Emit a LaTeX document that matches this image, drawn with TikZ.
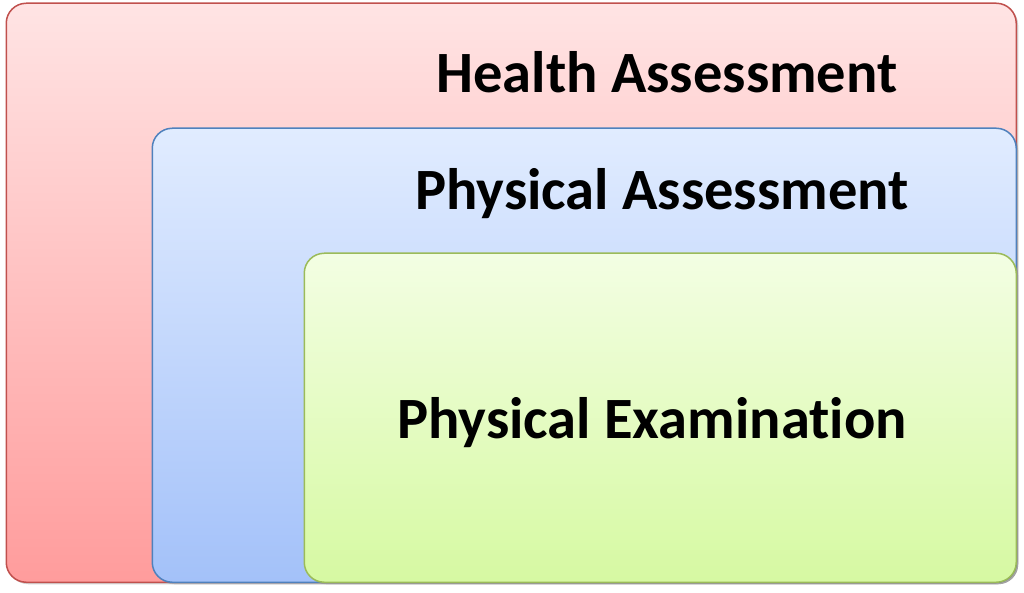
\documentclass[tikz,border=0pt]{standalone}
\usepackage{fontspec}
\setmainfont[Ligatures=NoCommon]{Carlito}
\usetikzlibrary{shadows}
\definecolor{healthline}{HTML}{C0504D}
\definecolor{healthtop}{HTML}{FFE4E4}
\definecolor{healthbot}{HTML}{FF9C9C}
\definecolor{physline}{HTML}{4F81BD}
\definecolor{phystop}{HTML}{E1ECFF}
\definecolor{physbot}{HTML}{A3C1F9}
\definecolor{examline}{HTML}{9BBB59}
\definecolor{examtop}{HTML}{F3FEE3}
\definecolor{exambot}{HTML}{D6F9A2}
\tikzstyle{layer} = [rectangle, rounded corners=20pt, line width=1.5pt, anchor=south east, drop shadow={opacity=0.35, shadow xshift=2pt, shadow yshift=-2pt}]
\tikzstyle{title} = [anchor=base, inner sep=0pt, font=\bfseries\fontsize{58.5}{68}\selectfont]

\begin{document}
\begin{tikzpicture}[x=1pt, y=-1pt]
\useasboundingbox (0,0) rectangle (1024,593);

 \node (health) [layer, draw=healthline, top color=healthtop, bottom color=healthbot, minimum width=1010pt, minimum height=579pt] at (1017,583) {};
 \node (phys) [layer, draw=physline, top color=phystop, bottom color=physbot, minimum width=864pt, minimum height=454pt] at (1017,583) {};
 \node (exam) [layer, draw=examline, top color=examtop, bottom color=exambot, minimum width=712pt, minimum height=329pt] at (1017,583) {};

 \node (healthtext) [title] at (667,93) {Health Assessment};
 \node (phystext) [title] at (662,210) {Physical Assessment};
 \node (examtext) [title] at (652,438) {Physical Examination};
\end{tikzpicture}
\end{document}
